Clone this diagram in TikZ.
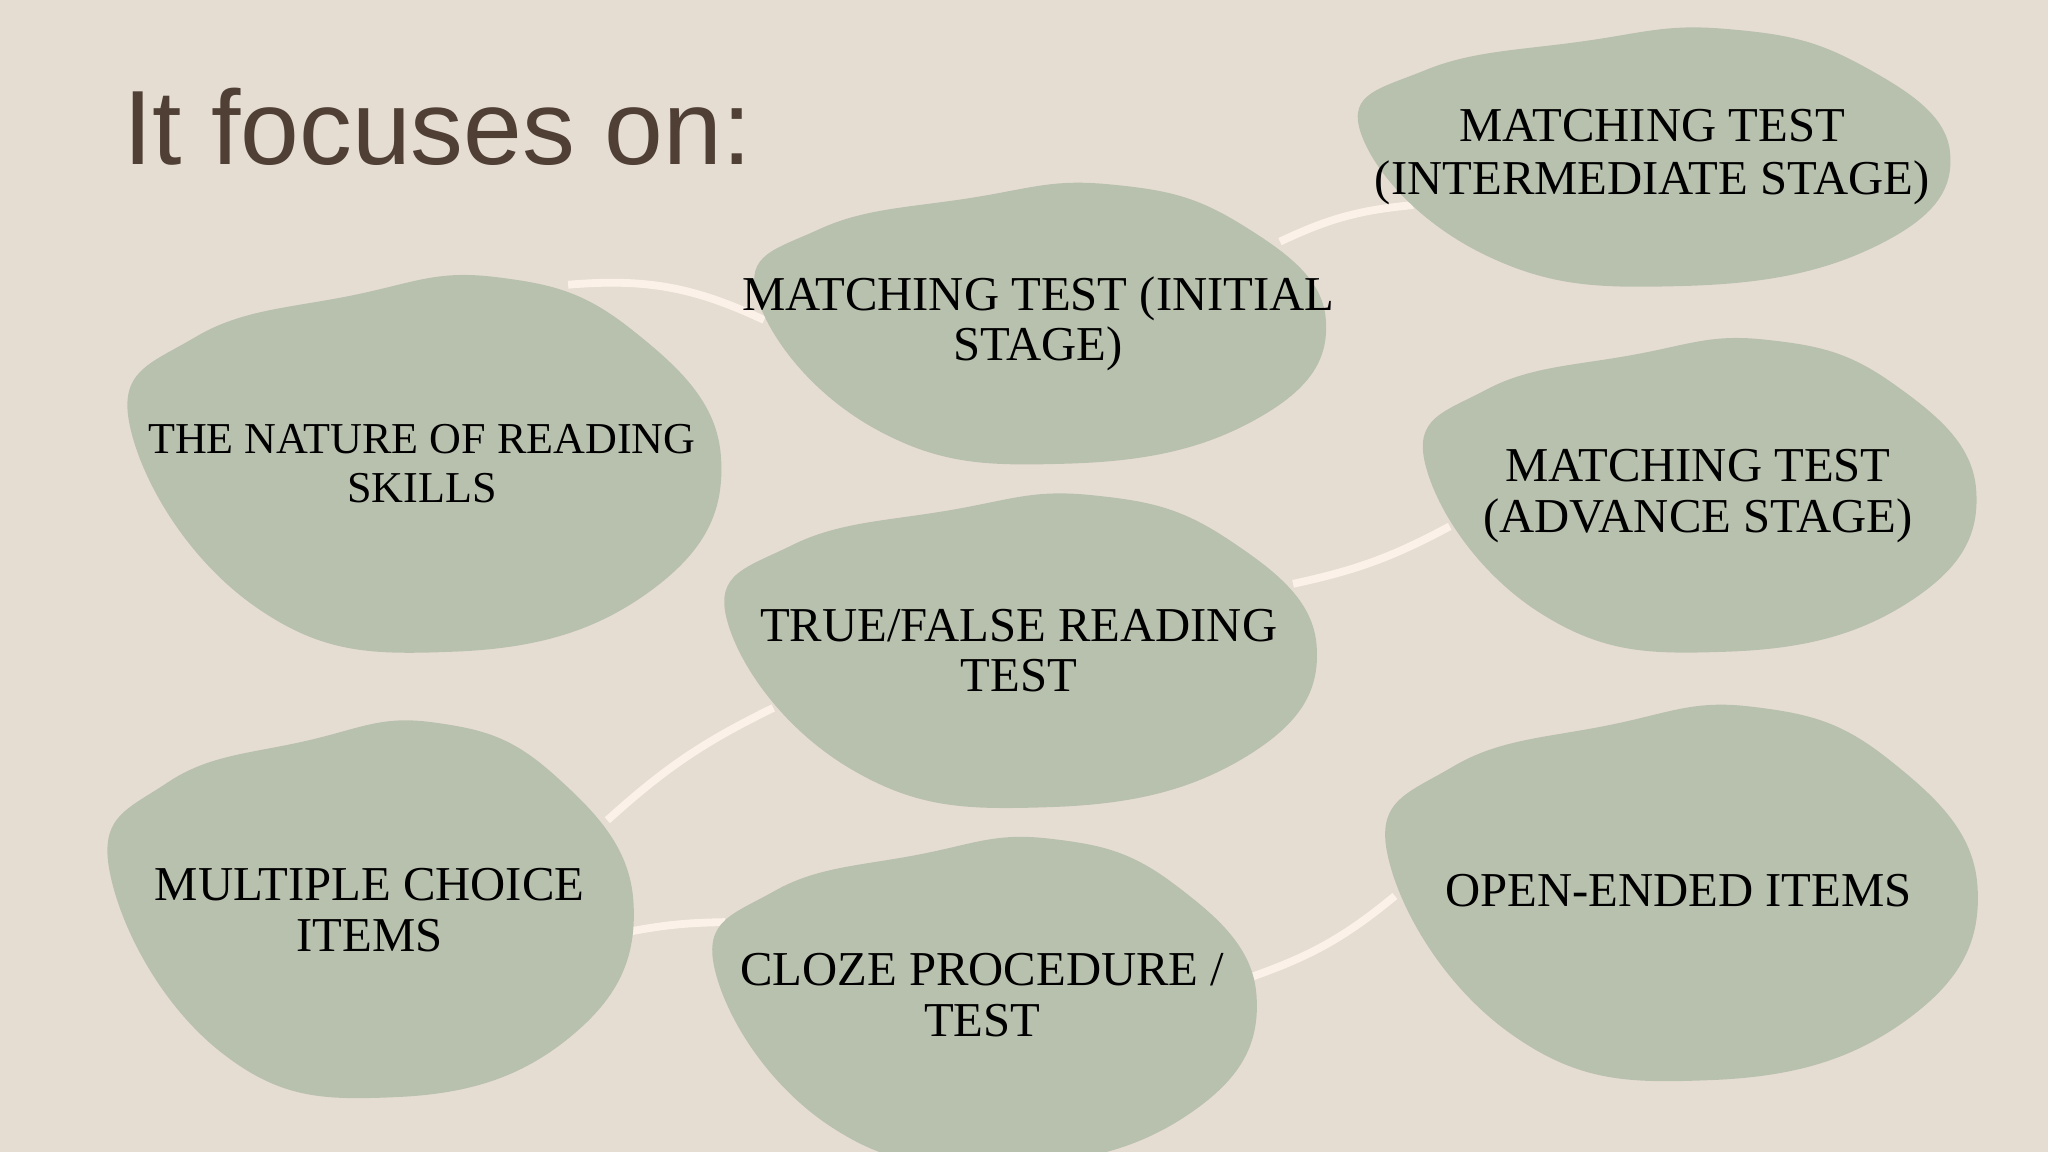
\documentclass[tikz,border=0pt]{standalone}
\usepackage{fontspec}
\setmainfont{Liberation Serif}
\newfontfamily\titlefont{Liberation Sans}
\definecolor{bg}{HTML}{E6DDD2}
\definecolor{blobc}{HTML}{B8C0AE}
\definecolor{titlec}{HTML}{4F3F35}
\definecolor{linkc}{HTML}{FBF1E8}
\newcommand\myblob[4]{%
  \fill[blobc] plot[smooth cycle,tension=0.75] coordinates {
    ({#1+0.01*#3},{#2+0.40*#4}) ({#1+0.12*#3},{#2+0.16*#4}) ({#1+0.38*#3},{#2+0.05*#4})
    ({#1+0.62*#3},{#2+0.0*#4}) ({#1+0.85*#3},{#2+0.14*#4}) ({#1+1.0*#3},{#2+0.48*#4})
    ({#1+0.88*#3},{#2+0.84*#4}) ({#1+0.55*#3},{#2+1.0*#4}) ({#1+0.22*#3},{#2+0.88*#4})};}
\tikzset{lbl/.style={align=center,font=\fontsize{9.6pt}{10.6pt}\selectfont,text=black},
  link/.style={draw=linkc,line width=1.7pt}}
\begin{document}
\begin{tikzpicture}[x=0.01cm,y=-0.01cm]
\fill[bg] (0,0) rectangle (1568,882);
\useasboundingbox (0,0) rectangle (1568,882);
% connector ends
\coordinate (a1) at (435,218); \coordinate (a2) at (585,245);
\coordinate (b1) at (980,185); \coordinate (b2) at (1082,157);
\coordinate (c1) at (990,447); \coordinate (c2) at (1110,403);
\coordinate (d1) at (465,628); \coordinate (d2) at (592,542);
\coordinate (e1) at (478,714); \coordinate (e2) at (555,706);
\coordinate (f1) at (958,748); \coordinate (f2) at (1068,686);
\draw[link] (a1) to[bend left=15] (a2);
\draw[link] (b1) to[bend left=10] (b2);
\draw[link] (c1) to[bend right=8] (c2);
\draw[link] (d1) to[bend left=8] (d2);
\draw[link] (e1) to[bend left=5] (e2);
\draw[link] (f1) to[bend right=10] (f2);
\myblob{95}{212}{457}{287}
\myblob{575}{141}{440}{214}
\myblob{1037}{22}{456}{197}
\myblob{1087}{260}{426}{239}
\myblob{552}{379}{456}{239}
\myblob{80}{553}{405}{287}
\myblob{543}{642}{419}{250}
\myblob{1058}{541}{456}{286}
\node[anchor=west,text=titlec,font=\titlefont\fontsize{23pt}{26pt}\selectfont] (title) at (82,97) {It focuses on:};
\node[lbl] (n1) at (323,355) {THE NATURE OF READING\\SKILLS};
\node[lbl,font=\fontsize{10.6pt}{11pt}\selectfont] (n2) at (795,248) {MATCHING TEST (INITIAL\\STAGE)};
\node[lbl,font=\fontsize{10.6pt}{11.5pt}\selectfont] (n3) at (1265,120) {MATCHING TEST\\(INTERMEDIATE STAGE)};
\node[lbl,font=\fontsize{10.6pt}{11pt}\selectfont] (n4) at (1300,380) {MATCHING TEST\\(ADVANCE STAGE)};
\node[lbl,font=\fontsize{10.6pt}{11pt}\selectfont] (n5) at (780,498) {TRUE/FALSE READING\\TEST};
\node[lbl,font=\fontsize{10.6pt}{11pt}\selectfont] (n6) at (283,697) {MULTIPLE CHOICE\\ITEMS};
\node[lbl,font=\fontsize{10.6pt}{11pt}\selectfont] (n7) at (752,762) {CLOZE PROCEDURE /\\TEST};
\node[lbl,font=\fontsize{10.6pt}{11pt}\selectfont] (n8) at (1285,682) {OPEN-ENDED ITEMS};
\end{tikzpicture}
\end{document}
